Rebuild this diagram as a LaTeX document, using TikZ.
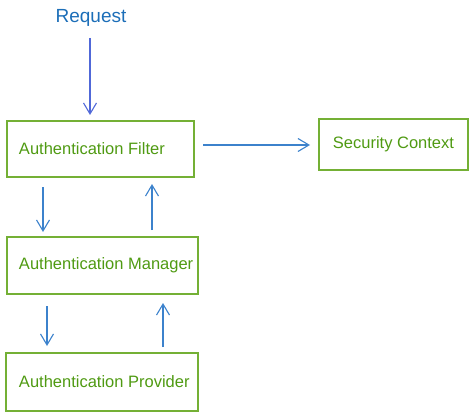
\documentclass[tikz,border=0pt]{standalone}
\usepackage{fontspec}
\setmainfont{Liberation Sans}
\usetikzlibrary{arrows.meta}
\definecolor{boxgreen}{HTML}{74B035}
\definecolor{txtgreen}{HTML}{4F9A12}
\definecolor{arrblue}{HTML}{3C82CC}
\definecolor{reqblue}{HTML}{1C6EB8}
\definecolor{reqarrow}{HTML}{5068D8}
\newcommand{\lefttext}[2]{\makebox[#1][l]{#2}}
\tikzset{
  box/.style={draw=boxgreen, line width=1.1pt, rectangle, inner ysep=0pt, inner xsep=12pt,
    text=txtgreen, font=\fontsize{16.5}{19}\selectfont},
  flow/.style={draw=arrblue, line width=1.1pt, -{Straight Barb[length=11pt,width=13pt,line width=1.1pt]}},
}
\begin{document}
\begin{tikzpicture}[x=1pt,y=-1pt]
\useasboundingbox (0,0) rectangle (474,417);
\node[text=reqblue, font=\fontsize{19}{22}\selectfont] (req) at (91,18) {Request};
\node[box, minimum height=56pt] (filter) at (100.5,149) {\lefttext{163pt}{Authentication Filter}};
\node[box, inner xsep=11pt, minimum height=51pt] (sec) at (393.5,144.5) {\makebox[127pt][c]{Security Context}};
\node[box, minimum height=57pt] (mgr) at (102.5,265.5) {\lefttext{167pt}{Authentication Manager}};
\node[box, minimum height=58pt, inner xsep=13pt] (prov) at (102,382) {\lefttext{166pt}{Authentication Provider}};

\coordinate (r1) at (90,38);
\coordinate (r2) at (90,115);
\draw[flow, draw=reqarrow] (r1) -- (r2);

\coordinate (s1) at (203,145);
\coordinate (s2) at (310,145);
\draw[flow] (s1) -- (s2);

\coordinate (d1a) at (43,187);
\coordinate (d1b) at (43,232);
\draw[flow] (d1a) -- (d1b);
\coordinate (u1a) at (152,230);
\coordinate (u1b) at (152,184);
\draw[flow] (u1a) -- (u1b);

\coordinate (d2a) at (47,306);
\coordinate (d2b) at (47,346);
\draw[flow] (d2a) -- (d2b);
\coordinate (u2a) at (163,347);
\coordinate (u2b) at (163,303);
\draw[flow] (u2a) -- (u2b);
\end{tikzpicture}
\end{document}
